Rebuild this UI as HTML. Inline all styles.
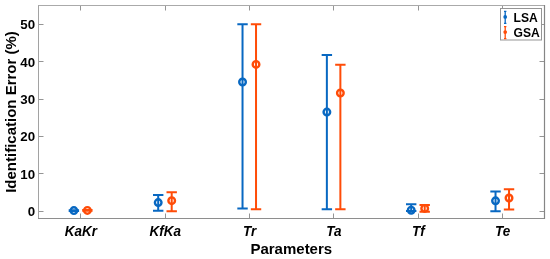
<!DOCTYPE html>
<html><head><meta charset="utf-8"><style>
html,body{margin:0;padding:0;background:#fff;width:550px;height:259px;overflow:hidden}
svg{display:block}
text{font-family:"Liberation Sans",Arial,sans-serif;font-weight:bold;fill:#000}
.tk{font-size:13.3px}
.tl{font-size:13.5px;font-style:italic}
.xl{font-size:15px}
.lg{font-size:12.1px}
</style></head><body>
<svg width="550" height="259" viewBox="0 0 550 259">
<rect width="550" height="259" fill="#fff"/>
<path d="M38.5 211.5h5M544.5 211.5h-5M38.5 173.5h5M544.5 173.5h-5M38.5 136.5h5M544.5 136.5h-5M38.5 99.5h5M544.5 99.5h-5M38.5 61.5h5M544.5 61.5h-5M38.5 24.5h5M544.5 24.5h-5M80.5 218.5v-5M80.5 5.5v5M165.5 218.5v-5M165.5 5.5v5M249.5 218.5v-5M249.5 5.5v5M333.5 218.5v-5M333.5 5.5v5M418.5 218.5v-5M418.5 5.5v5M502.5 218.5v-5M502.5 5.5v5" stroke="#959595" stroke-width="1.0" fill="none"/>
<path d="M38.5 5V219" stroke="#a2a2a2" stroke-width="1"/>
<path d="M38.5 5.5H544.5" stroke="#aaaaaa" stroke-width="1"/>
<path d="M38 218.5H545" stroke="#8e8e8e" stroke-width="1.2"/>
<path d="M544.5 5V219" stroke="#858585" stroke-width="1.2"/>
<text x="35.1" y="216" text-anchor="end" class="tk">0</text>
<text x="35.1" y="178.64" text-anchor="end" class="tk">10</text>
<text x="35.1" y="141.28" text-anchor="end" class="tk">20</text>
<text x="35.1" y="103.92" text-anchor="end" class="tk">30</text>
<text x="35.1" y="66.56" text-anchor="end" class="tk">40</text>
<text x="35.1" y="29.2" text-anchor="end" class="tk">50</text>
<text transform="translate(80.97 235.8) scale(1 1.08)" text-anchor="middle" class="tl">KaKr</text>
<text transform="translate(165.3 235.8) scale(1 1.08)" text-anchor="middle" class="tl">KfKa</text>
<text transform="translate(249.63 235.8) scale(1 1.08)" text-anchor="middle" class="tl">Tr</text>
<text transform="translate(333.97 235.8) scale(1 1.08)" text-anchor="middle" class="tl">Ta</text>
<text transform="translate(418.3 235.8) scale(1 1.08)" text-anchor="middle" class="tl">Tf</text>
<text transform="translate(502.63 235.8) scale(1 1.08)" text-anchor="middle" class="tl">Te</text>
<text x="291.3" y="254" text-anchor="middle" class="xl">Parameters</text>
<text transform="translate(15.5 112) rotate(-90)" text-anchor="middle" class="xl">Identification Error (%)</text>
<path d="M73.87 210.91V210.35M68.67 210.91h10.4M68.67 210.35h10.4" stroke="#0868C2" stroke-width="2.0" fill="none"/>
<circle cx="73.87" cy="210.61" r="3.3" stroke="#0868C2" stroke-width="2.4" fill="none"/>
<path d="M87.37 210.73V209.98M82.17 210.73h10.4M82.17 209.98h10.4" stroke="#FF4C08" stroke-width="2.0" fill="none"/>
<circle cx="87.37" cy="210.39" r="3.3" stroke="#FF4C08" stroke-width="2.4" fill="none"/>
<path d="M158.2 210.8V195M153 210.8h10.4M153 195h10.4" stroke="#0868C2" stroke-width="2.0" fill="none"/>
<circle cx="158.2" cy="202.62" r="3.3" stroke="#0868C2" stroke-width="2.4" fill="none"/>
<path d="M171.7 211.29V192.35M166.5 211.29h10.4M166.5 192.35h10.4" stroke="#FF4C08" stroke-width="2.0" fill="none"/>
<circle cx="171.7" cy="200.64" r="3.3" stroke="#FF4C08" stroke-width="2.4" fill="none"/>
<path d="M242.53 208.56V24.3M237.33 208.56h10.4M237.33 24.3h10.4" stroke="#0868C2" stroke-width="2.0" fill="none"/>
<circle cx="242.53" cy="81.98" r="3.3" stroke="#0868C2" stroke-width="2.4" fill="none"/>
<path d="M256.03 209.34V24.3M250.83 209.34h10.4M250.83 24.3h10.4" stroke="#FF4C08" stroke-width="2.0" fill="none"/>
<circle cx="256.03" cy="64.39" r="3.3" stroke="#FF4C08" stroke-width="2.4" fill="none"/>
<path d="M326.87 209.34V54.94M321.67 209.34h10.4M321.67 54.94h10.4" stroke="#0868C2" stroke-width="2.0" fill="none"/>
<circle cx="326.87" cy="112.1" r="3.3" stroke="#0868C2" stroke-width="2.4" fill="none"/>
<path d="M340.37 209.34V64.65M335.17 209.34h10.4M335.17 64.65h10.4" stroke="#FF4C08" stroke-width="2.0" fill="none"/>
<circle cx="340.37" cy="93.04" r="3.3" stroke="#FF4C08" stroke-width="2.4" fill="none"/>
<path d="M411.2 211.1V204.26M406 211.1h10.4M406 204.26h10.4" stroke="#0868C2" stroke-width="2.0" fill="none"/>
<circle cx="411.2" cy="210.2" r="3.3" stroke="#0868C2" stroke-width="2.4" fill="none"/>
<path d="M424.7 211.66V205.12M419.5 211.66h10.4M419.5 205.12h10.4" stroke="#FF4C08" stroke-width="2.0" fill="none"/>
<circle cx="424.7" cy="208.41" r="3.3" stroke="#FF4C08" stroke-width="2.4" fill="none"/>
<path d="M495.53 211.29V191.49M490.33 211.29h10.4M490.33 191.49h10.4" stroke="#0868C2" stroke-width="2.0" fill="none"/>
<circle cx="495.53" cy="200.83" r="3.3" stroke="#0868C2" stroke-width="2.4" fill="none"/>
<path d="M509.03 209.61V189.32M503.83 209.61h10.4M503.83 189.32h10.4" stroke="#FF4C08" stroke-width="2.0" fill="none"/>
<circle cx="509.03" cy="198.02" r="3.3" stroke="#FF4C08" stroke-width="2.4" fill="none"/>
<rect x="500.5" y="8.5" width="41" height="31.5" fill="#fff" stroke="#959595" stroke-width="1"/>
<path d="M505.2 11.3V23.4M504 11.3h2.4M504 23.4h2.4" stroke="#0868C2" stroke-width="1.3" fill="none"/>
<circle cx="505.2" cy="16.9" r="1.85" fill="#0868C2"/>
<text x="513.6" y="21.5" class="lg">LSA</text>
<path d="M505.2 26.6V38.7M504 26.6h2.4M504 38.7h2.4" stroke="#FF4C08" stroke-width="1.3" fill="none"/>
<circle cx="505.2" cy="32.1" r="1.85" fill="#FF4C08"/>
<text x="513.6" y="36.6" class="lg">GSA</text>
</svg>
</body></html>
